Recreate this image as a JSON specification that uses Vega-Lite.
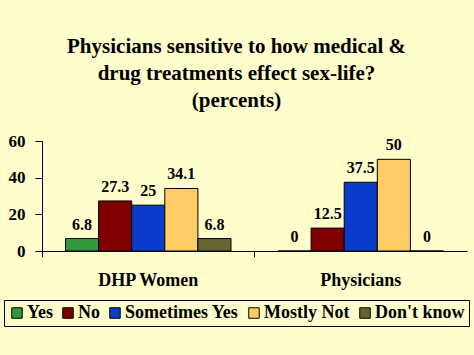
{
  "$schema": "https://vega.github.io/schema/vega-lite/v6.json",
  "autosize": {"type": "none"},
  "width": 425,
  "height": 110,
  "padding": {"left": 42, "top": 141, "right": 7, "bottom": 104},
  "background": "#FFFDCC",
  "config": {
    "view": {"stroke": null},
    "font": "Liberation Serif"
  },
  "title": {
    "text": ["Physicians sensitive to how medical &", "drug treatments effect sex-life?", "(percents)"],
    "font": "Liberation Serif",
    "fontSize": 21,
    "fontWeight": "bold",
    "color": "#000000",
    "lineHeight": 27,
    "anchor": "middle",
    "frame": "group",
    "dx": -18,
    "offset": 21
  },
  "data": {
    "values": [
      {"group": "DHP Women", "response": "Yes", "value": 6.8},
      {"group": "DHP Women", "response": "No", "value": 27.3},
      {"group": "DHP Women", "response": "Sometimes Yes", "value": 25},
      {"group": "DHP Women", "response": "Mostly Not", "value": 34.1},
      {"group": "DHP Women", "response": "Don't know", "value": 6.8},
      {"group": "Physicians", "response": "Yes", "value": 0},
      {"group": "Physicians", "response": "No", "value": 12.5},
      {"group": "Physicians", "response": "Sometimes Yes", "value": 37.5},
      {"group": "Physicians", "response": "Mostly Not", "value": 50},
      {"group": "Physicians", "response": "Don't know", "value": 0}
    ]
  },
  "encoding": {
    "x": {
      "field": "group",
      "type": "nominal",
      "sort": null,
      "scale": {"paddingInner": 0, "paddingOuter": 0},
      "axis": {
        "title": null,
        "labelAngle": 0,
        "bandPosition": 0,
        "labelFont": "Liberation Serif",
        "labelFontSize": 18,
        "labelFontWeight": "bold",
        "labelColor": "#000000",
        "labelPadding": 14,
        "tickSize": 6,
        "tickColor": "#000000",
        "domainColor": "#000000",
        "grid": false
      }
    },
    "y": {
      "field": "value",
      "type": "quantitative",
      "scale": {"domain": [0, 60]},
      "axis": {
        "title": null,
        "values": [0, 20, 40, 60],
        "grid": false,
        "labelFont": "Liberation Serif",
        "labelFontSize": 17,
        "labelFontWeight": "bold",
        "labelColor": "#000000",
        "labelPadding": 10,
        "tickSize": 7,
        "tickColor": "#000000",
        "domainColor": "#000000"
      }
    }
  },
  "layer": [
    {
      "mark": {"type": "bar", "stroke": "#000000", "strokeWidth": 1},
      "encoding": {
        "xOffset": {
          "field": "response",
          "type": "nominal",
          "sort": ["Yes", "No", "Sometimes Yes", "Mostly Not", "Don't know"],
          "scale": {"paddingInner": 0, "paddingOuter": 0.71}
        },
        "color": {
          "field": "response",
          "type": "nominal",
          "scale": {
            "domain": ["Yes", "No", "Sometimes Yes", "Mostly Not", "Don't know"],
            "range": ["#33993A", "#800000", "#0A3CCC", "#FFCC66", "#666633"]
          },
          "legend": {
            "title": null,
            "orient": "none",
            "direction": "horizontal",
            "legendX": -38,
            "legendY": 159,
            "symbolType": "square",
            "symbolSize": 110,
            "symbolStrokeColor": "#000000",
            "symbolStrokeWidth": 1,
            "symbolOpacity": 1,
            "labelFont": "Liberation Serif",
            "labelFontSize": 18,
            "labelFontWeight": "bold",
            "labelColor": "#000000",
            "labelOffset": 1,
            "labelLimit": 300,
            "columnPadding": 6,
            "padding": 4,
            "strokeColor": "#000000"
          }
        }
      }
    },
    {
      "mark": {
        "type": "text",
        "baseline": "bottom",
        "dy": -6,
        "font": "Liberation Serif",
        "fontSize": 16,
        "fontWeight": "bold",
        "color": "#000000"
      },
      "encoding": {
        "xOffset": {
          "field": "response",
          "type": "nominal",
          "sort": ["Yes", "No", "Sometimes Yes", "Mostly Not", "Don't know"],
          "scale": {"paddingInner": 0, "paddingOuter": 0.71}
        },
        "text": {"field": "value", "type": "quantitative"}
      }
    },
    {
      "data": {"values": [{"edge": "end"}]},
      "mark": {"type": "rule", "color": "#000000", "strokeWidth": 1},
      "encoding": {
        "x": {"datum": "Physicians", "bandPosition": 1},
        "y": {"datum": 0},
        "y2": {"datum": -3.3}
      }
    }
  ]
}
